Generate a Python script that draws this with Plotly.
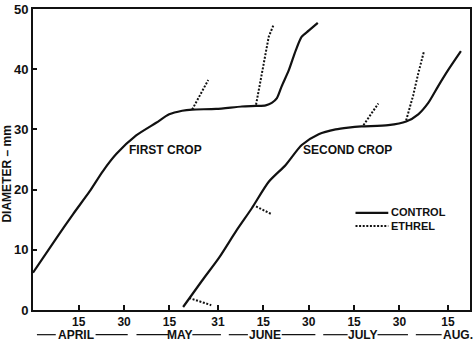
import plotly.graph_objects as go

# ---------------- data (x = day of year, y = diameter in mm) ----------------
control1_day = [89.9, 97.7, 103.1, 108.6, 112.9, 117.4, 124.0, 130.6, 134.9, 139.2, 142.5,
                150.4, 158.9, 163.6, 166.8, 168.8, 170.5, 172.1, 174.4, 176.7, 178.7, 181.0, 184.0]
control1_mm = [6.2, 12.0, 15.9, 19.7, 23.0, 25.9, 29.0, 31.1, 32.5, 33.1, 33.3,
               33.4, 33.8, 33.9, 34.0, 34.4, 35.2, 37.2, 39.8, 43.1, 45.4, 46.4, 47.7]

control2_day = [139.5, 145.8, 151.4, 157.0, 162.2, 167.8, 173.4, 178.7, 184.3, 189.9, 194.1,
                198.4, 207.3, 213.2, 217.2, 220.5, 223.8, 227.0, 231.3]
control2_mm = [0.5, 4.9, 8.7, 13.1, 16.9, 21.3, 24.1, 27.4, 29.2, 30.0, 30.3,
               30.5, 30.7, 31.3, 32.5, 34.4, 37.2, 39.8, 43.0]

ethrel1_day = [142.5, 147.8, None, 163.6, 166.2, 167.8, 169.5]
ethrel1_mm = [33.3, 38.2, None, 34.1, 41.5, 45.4, 47.5]

ethrel2_day = [141.5, 148.8, None, 163.6, 168.8, None, 199.1, 204.0, None, 213.2, 215.5, 217.2, 219.1]
ethrel2_mm = [2.0, 0.8, None, 17.2, 15.9, None, 30.7, 34.3, None, 31.5, 35.6, 39.3, 43.0]

tick_days = [105, 120, 135, 151, 166, 181, 196, 211, 227]
tick_labels = ["15", "30", "15", "31", "15", "30", "15", "30", "15"]

months = ["APRIL", "MAY", "JUNE", "JULY", "AUG."]
month_line_start = [91.2, 124.1, 154.6, 185.8, 216.4]
month_line_end = [121.2, 152.0, 183.2, 213.8, 229.0]
month_label_day = [104.0, 138.6, 166.5, 198.8, 230.2]

crop_labels = ["FIRST CROP", "SECOND CROP"]
crop_label_day = [133.6, 193.8]
crop_label_mm = [26.6, 26.6]

series_names = ["CONTROL", "ETHREL"]

# ---------------- figure ----------------
FONT = "Liberation Sans"
BLACK = "#111111"
fig = go.Figure()

ctrl_line = dict(color=BLACK, width=2.2, shape="spline", smoothing=0.7)
eth_line = dict(color=BLACK, width=2, dash="2px,1.6px")

fig.add_trace(go.Scatter(x=control1_day, y=control1_mm, mode="lines", line=ctrl_line,
                         name=series_names[0], showlegend=False))
fig.add_trace(go.Scatter(x=control2_day, y=control2_mm, mode="lines", line=ctrl_line,
                         name=series_names[0], showlegend=False))
fig.add_trace(go.Scatter(x=ethrel1_day, y=ethrel1_mm, mode="lines", line=eth_line,
                         name=series_names[1], showlegend=False, connectgaps=False))
fig.add_trace(go.Scatter(x=ethrel2_day, y=ethrel2_mm, mode="lines", line=eth_line,
                         name=series_names[1], showlegend=False, connectgaps=False))

annotations = []
shapes = []

# crop labels
for t, d, m in zip(crop_labels, crop_label_day, crop_label_mm):
    annotations.append(dict(x=d, y=m, xref="x", yref="y", text=t, showarrow=False,
                            font=dict(family=FONT, size=12, color=BLACK, weight="bold")))

# month labels with dashes
half_px = {"APRIL": 20, "MAY": 12, "JUNE": 17, "JULY": 15, "AUG.": 16}
px_per_day = 3.04
for name, s, e, c in zip(months, month_line_start, month_line_end, month_label_day):
    annotations.append(dict(x=c, y=0, xref="x", yref="paper", yshift=-25, text=name,
                            showarrow=False, yanchor="middle",
                            font=dict(family=FONT, size=12, color=BLACK, weight="bold")))
    hw = half_px[name] / px_per_day
    if c - hw > s:
        shapes.append(dict(type="line", xref="x", yref="paper", x0=s, x1=c - hw,
                           y0=-0.082, y1=-0.082, line=dict(color=BLACK, width=1.2)))
    if e > c + hw:
        shapes.append(dict(type="line", xref="x", yref="paper", x0=c + hw, x1=e,
                           y0=-0.082, y1=-0.082, line=dict(color=BLACK, width=1.2)))

# y-axis title
annotations.append(dict(x=0, y=22.5, xref="paper", yref="y", xshift=-26, text="DIAMETER – mm",
                        textangle=-90, showarrow=False, xanchor="center", yanchor="middle",
                        font=dict(family=FONT, size=12, color=BLACK, weight="bold")))

# manual legend (one text block, two rows)
leg_x0, leg_x1 = 0.738, 0.813
leg_y = [(310 - 211.5) / 305, (310 - 225) / 305]
shapes.append(dict(type="line", xref="paper", yref="paper", x0=leg_x0, x1=leg_x1,
                   y0=leg_y[0], y1=leg_y[0], line=dict(color=BLACK, width=2.2)))
shapes.append(dict(type="line", xref="paper", yref="paper", x0=leg_x0, x1=leg_x1,
                   y0=leg_y[1], y1=leg_y[1], line=dict(color=BLACK, width=2, dash="2px,1.6px")))
annotations.append(dict(x=leg_x1, y=(leg_y[0] + leg_y[1]) / 2, xref="paper", yref="paper",
                        xshift=1, text="<br>".join(series_names), align="left",
                        showarrow=False, xanchor="left", yanchor="middle",
                        font=dict(family=FONT, size=11, color=BLACK, weight="bold")))

fig.update_layout(
    width=474, height=341,
    margin=dict(l=33, r=2, t=5, b=31),
    paper_bgcolor="white", plot_bgcolor="white",
    showlegend=False,
    annotations=annotations, shapes=shapes,
    font=dict(family=FONT, size=12, color=BLACK),
)
fig.update_xaxes(range=[89.9, 234.3], tickvals=tick_days, ticktext=tick_labels,
                 ticks="inside", ticklen=5, tickwidth=2, tickcolor=BLACK,
                 showline=True, linewidth=2, linecolor=BLACK, mirror=True,
                 showgrid=False, zeroline=False,
                 tickfont=dict(family=FONT, size=12, color=BLACK, weight="bold"))
fig.update_yaxes(range=[0, 50], tickvals=[0, 10, 20, 30, 40, 50],
                 ticks="inside", ticklen=4, tickwidth=2, tickcolor=BLACK,
                 showline=True, linewidth=2, linecolor=BLACK, mirror=True,
                 showgrid=False, zeroline=False, ticklabeloverflow="allow",
                 tickfont=dict(family=FONT, size=13, color=BLACK, weight="bold"))

fig.write_html("out.html")
